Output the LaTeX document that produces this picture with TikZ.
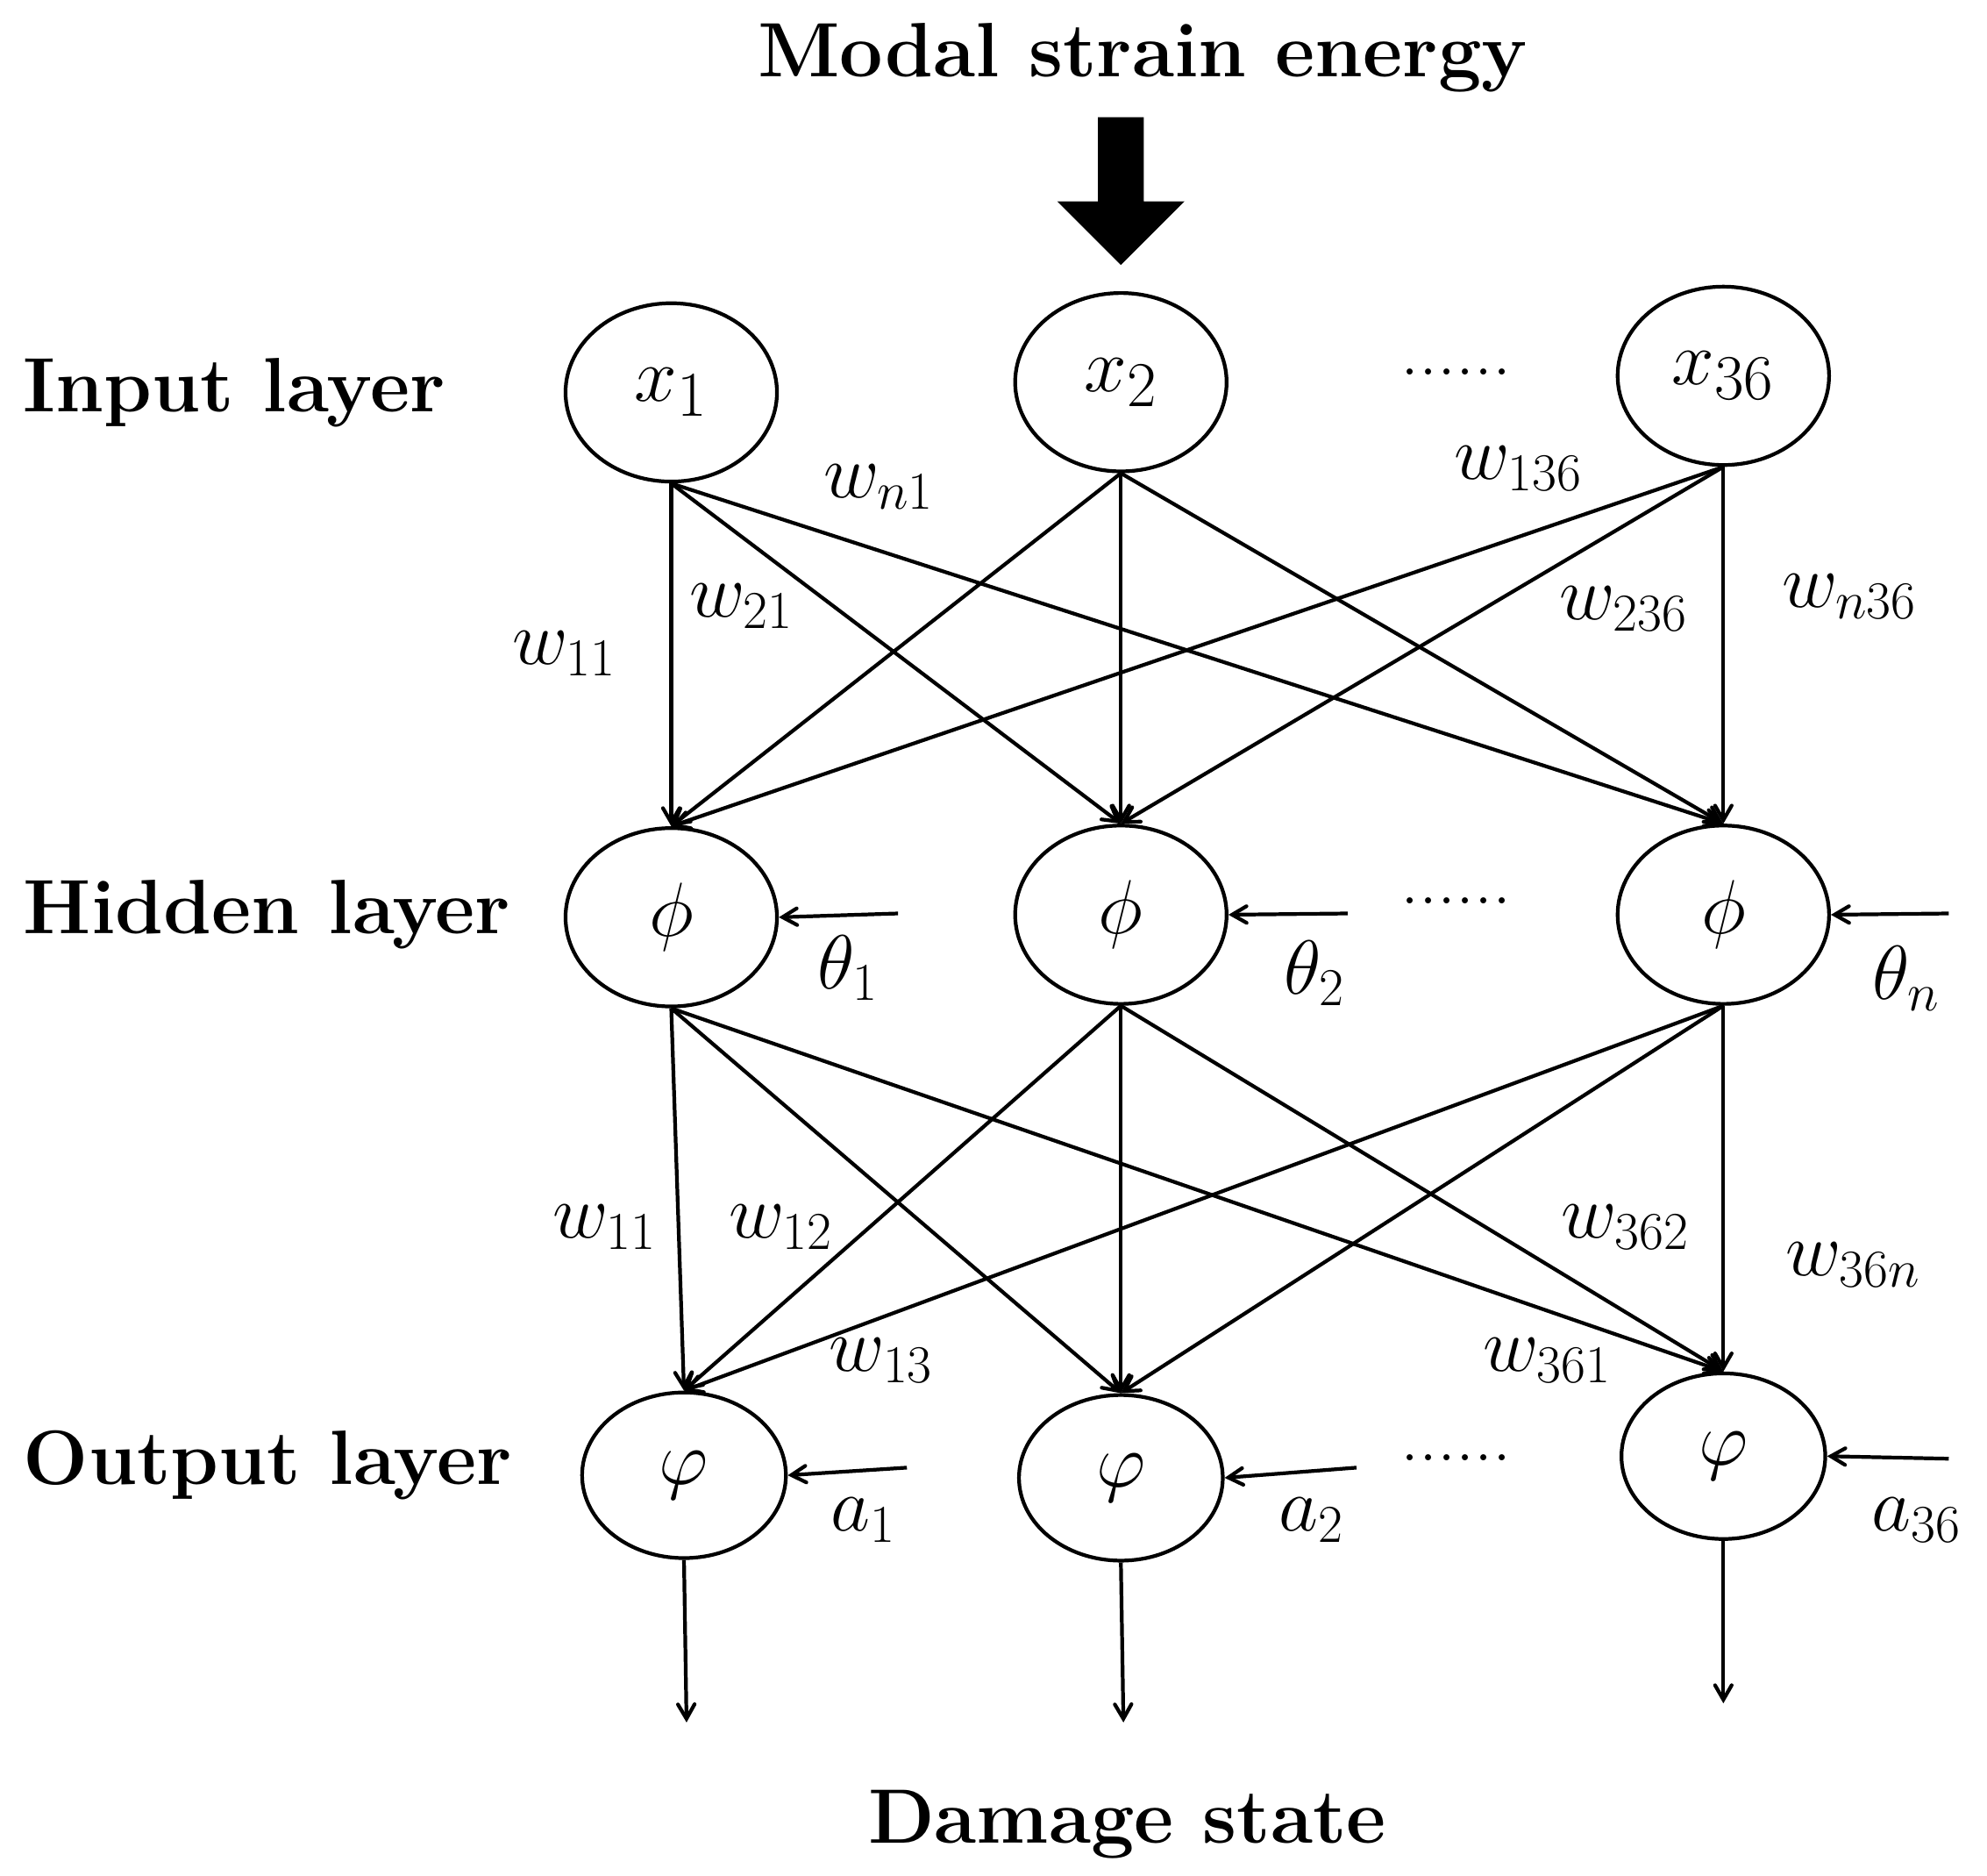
\documentclass[tikz,border=0pt]{standalone}
\usepackage{tikz}
\usetikzlibrary{shapes,arrows}

\tikzset{
  neuron/.style={draw, ellipse, line width=1.2pt, minimum width=166\unitpx, minimum height=140\unitpx, inner sep=0pt, font=\fontsize{32}{36}\selectfont},
  conn/.style={->, line width=1.2pt, >=angle 60},
  title/.style={font=\fontsize{25}{30}\selectfont\bfseries},
  wlabel/.style={font=\fontsize{26}{30}\selectfont},
}
\newlength{\unitpx}
\setlength{\unitpx}{0.014526cm}

\begin{document}
\begin{tikzpicture}[x=0.014526cm, y=-0.014526cm]
  \useasboundingbox (0,0) rectangle (1560,1472);

  % neurons
  \node[neuron] (i1) at (527,308) {$x_1$};
  \node[neuron] (i2) at (880,300) {$x_2$};
  \node[neuron] (i3) at (1353,295) {$x_{36}$};
  \node[neuron] (h1) at (527,720) {$\phi$};
  \node[neuron] (h2) at (880,718) {$\phi$};
  \node[neuron] (h3) at (1353,718) {$\phi$};
  \node[neuron, minimum width=160\unitpx, minimum height=130\unitpx] (o1) at (537,1158) {$\varphi$};
  \node[neuron, minimum width=160\unitpx, minimum height=130\unitpx] (o2) at (880,1160) {$\varphi$};
  \node[neuron, minimum width=160\unitpx, minimum height=130\unitpx] (o3) at (1353,1143) {$\varphi$};

  % connections
  \foreach \a in {1,2,3}
    \foreach \b in {1,2,3} {
      \draw[conn] (i\a.south) -- (h\b.north);
      \draw[conn] (h\a.south) -- (o\b.north);
    }

  % biases
  \coordinate (t1) at (705,717);
  \coordinate (t2) at (1058,717);
  \coordinate (t3) at (1530,717);
  \coordinate (s1) at (712,1152);
  \coordinate (s2) at (1065,1152);
  \coordinate (s3) at (1530,1145);
  \foreach \k in {1,2,3} {
    \draw[conn] (t\k) -- (h\k.east);
    \draw[conn] (s\k) -- (o\k.east);
  }
  \node[wlabel] (th1) at (666,760) {$\theta_1$};
  \node[wlabel] (th2) at (1032,764) {$\theta_2$};
  \node[wlabel] (th3) at (1497,768) {$\theta_n$};
  \node[wlabel] (a1) at (678,1193) {$a_1$};
  \node[wlabel] (a2) at (1030,1193) {$a_2$};
  \node[wlabel] (a3) at (1505,1193) {$a_{36}$};

  % outputs
  \coordinate (d1) at (539,1352);
  \coordinate (d2) at (882,1352);
  \coordinate (d3) at (1353,1337);
  \foreach \k in {1,2,3}
    \draw[conn] (o\k.south) -- (d\k);

  % weight labels
  \node[wlabel] (wn1) at (690,382) {$w_{n1}$};
  \node[wlabel] (w136) at (1192,368) {$w_{136}$};
  \node[wlabel] (w21) at (582,476) {$w_{21}$};
  \node[wlabel] (w11) at (443,513) {$w_{11}$};
  \node[wlabel] (w236) at (1275,478) {$w_{236}$};
  \node[wlabel] (wn36) at (1452,468) {$w_{n36}$};
  \node[wlabel] (v11) at (475,963) {$w_{11}$};
  \node[wlabel] (v12) at (613,963) {$w_{12}$};
  \node[wlabel] (v13) at (692,1068) {$w_{13}$};
  \node[wlabel] (v362) at (1276,963) {$w_{362}$};
  \node[wlabel] (v36n) at (1455,993) {$w_{36n}$};
  \node[wlabel] (v361) at (1215,1068) {$w_{361}$};

  % dots
  \foreach \y/\n in {300/p1,715/p2,1152/p3}
    \node[font=\fontsize{24}{28}\selectfont] (\n) at (1143,\y-8) {......};

  % titles
  \node[title] (top) at (897,45) {Modal strain energy};
  \node[title] (bot) at (885,1432) {Damage state};
  \node[title, anchor=west] (lin) at (10,308) {Input layer};
  \node[title, anchor=west] (lhid) at (10,718) {Hidden layer};
  \node[title, anchor=west] (lout) at (10,1150) {Output layer};

  % big arrow
  \fill (862,92) -- (898,92) -- (898,158) -- (930,158) -- (880,208) -- (830,158) -- (862,158) -- cycle;
\end{tikzpicture}
\end{document}
